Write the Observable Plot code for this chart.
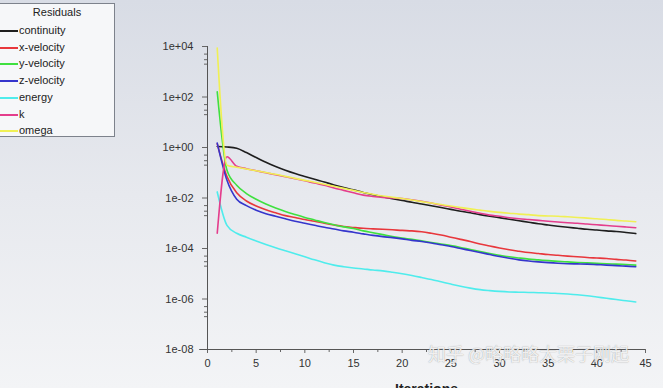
<!DOCTYPE html>
<html>
<head>
<meta charset="utf-8">
<script src="https://cdn.jsdelivr.net/npm/d3@7"></script>
<script src="https://cdn.jsdelivr.net/npm/@observablehq/plot@0.6"></script>
<style>
  html, body { margin: 0; padding: 0; }
  #wrap {
    position: relative; width: 663px; height: 388px; overflow: hidden;
    background: linear-gradient(to bottom, #d8dce5 0%, #e7e9ee 50%, #f3f4f6 100%);
    font-family: "Liberation Sans", Arial, sans-serif;
  }
  #legend {
    position: absolute; left: -1px; top: 3px; width: 116px; height: 134px;
    background: #f6f7f9; border: 1px solid #7d828c; box-sizing: border-box;
    font-size: 11px; color: #222;
  }
  #legend .title { position: absolute; top: 2px; left: 0; width: 100%; text-align: center; }
  #legend .row { position: absolute; left: 0; height: 14px; line-height: 14px; }
  #legend .sw { position: absolute; left: 0; top: 7px; width: 18px; height: 0; border-top: 2px solid; }
  #legend .lb { position: absolute; left: 19px; top: 0; white-space: nowrap; }
  #wm {
    position: absolute; left: 428px; top: 340px; font-family: "Noto Sans CJK SC", sans-serif;
    font-size: 18px; color: rgba(255,255,255,0.85); white-space: nowrap;
    text-shadow: 0 0 1px rgba(110,110,110,0.7);
  }
  #chart { position: absolute; left: 0; top: 0; }
</style>
</head>
<body>
<div id="wrap">
  <div id="chart"></div>
  <div id="legend"></div>
  <div id="wm">知乎 @略略略大栗子刚起</div>
</div>
<script>
const iterations = [1,2,3,4,5,6,7,8,9,10,11,12,13,14,15,16,17,18,19,20,21,22,23,24,25,26,27,28,29,30,31,32,33,34,35,36,37,38,39,40,41,42,43,44];

const seriesNames = ["continuity","x-velocity","y-velocity","z-velocity","energy","k","omega"];
const seriesColors = ["#1e1e1e","#e8373c","#3fe03f","#3535cc","#4fecec","#e43d8c","#f0f055"];

const continuity = [1.1,1.05,0.93,6.3e-1,4.0e-1,2.6e-1,1.78e-1,1.26e-1,9.3e-2,7.1e-2,5.5e-2,4.3e-2,3.3e-2,2.6e-2,2.1e-2,1.66e-2,1.35e-2,1.12e-2,9.3e-3,7.9e-3,6.8e-3,5.75e-3,4.9e-3,4.2e-3,3.55e-3,3.0e-3,2.6e-3,2.2e-3,1.9e-3,1.66e-3,1.45e-3,1.26e-3,1.1e-3,9.5e-4,8.5e-4,7.6e-4,6.9e-4,6.3e-4,5.75e-4,5.4e-4,5.0e-4,4.7e-4,4.3e-4,3.9e-4];
const xVelocity = [1.4,7.1e-2,1.6e-2,7.6e-3,4.8e-3,3.4e-3,2.6e-3,2.0e-3,1.7e-3,1.4e-3,1.2e-3,1.0e-3,8.5e-4,7.4e-4,6.8e-4,6.3e-4,6.0e-4,5.75e-4,5.5e-4,5.2e-4,5.0e-4,4.6e-4,4.0e-4,3.4e-4,2.8e-4,2.3e-4,1.9e-4,1.5e-4,1.26e-4,1.05e-4,8.9e-5,7.8e-5,6.9e-5,6.3e-5,5.75e-5,5.4e-5,5.0e-5,4.7e-5,4.4e-5,4.2e-5,4.0e-5,3.7e-5,3.5e-5,3.2e-5];
const yVelocity = [1.6e2,1.26e-1,3.2e-2,1.5e-2,8.9e-3,5.75e-3,4.0e-3,2.9e-3,2.2e-3,1.7e-3,1.35e-3,1.07e-3,8.7e-4,7.2e-4,6.2e-4,5.0e-4,4.2e-4,3.55e-4,3.0e-4,2.6e-4,2.3e-4,2.0e-4,1.74e-4,1.5e-4,1.3e-4,1.1e-4,9.1e-5,7.6e-5,6.3e-5,5.4e-5,4.7e-5,4.2e-5,3.8e-5,3.55e-5,3.3e-5,3.1e-5,2.95e-5,2.8e-5,2.7e-5,2.6e-5,2.5e-5,2.4e-5,2.3e-5,2.2e-5];
const zVelocity = [1.5,5.0e-2,8.9e-3,5.0e-3,3.3e-3,2.4e-3,1.9e-3,1.5e-3,1.2e-3,1.0e-3,8.3e-4,6.9e-4,5.9e-4,5.0e-4,4.4e-4,3.8e-4,3.3e-4,2.95e-4,2.7e-4,2.4e-4,2.1e-4,1.9e-4,1.66e-4,1.4e-4,1.2e-4,1.0e-4,8.3e-5,6.9e-5,5.75e-5,4.8e-5,4.1e-5,3.55e-5,3.2e-5,2.95e-5,2.75e-5,2.6e-5,2.5e-5,2.45e-5,2.4e-5,2.3e-5,2.2e-5,2.1e-5,2.0e-5,1.9e-5];
const energy = [1.74e-2,8.3e-4,4.0e-4,2.8e-4,2.0e-4,1.45e-4,1.07e-4,8.1e-5,6.2e-5,4.7e-5,3.55e-5,2.75e-5,2.2e-5,1.9e-5,1.7e-5,1.55e-5,1.4e-5,1.3e-5,1.15e-5,1.0e-5,8.5e-6,7.1e-6,5.9e-6,4.8e-6,3.9e-6,3.2e-6,2.7e-6,2.35e-6,2.15e-6,2.0e-6,1.9e-6,1.86e-6,1.82e-6,1.78e-6,1.74e-6,1.66e-6,1.58e-6,1.48e-6,1.35e-6,1.2e-6,1.07e-6,9.5e-7,8.5e-7,7.6e-7];
const kResidual = [4.0e-4,4.3e-1,1.8e-1,1.45e-1,1.2e-1,1.0e-1,8.3e-2,6.9e-2,5.75e-2,4.8e-2,3.9e-2,3.2e-2,2.5e-2,2.0e-2,1.6e-2,1.3e-2,1.15e-2,1.05e-2,1.0e-2,9.5e-3,8.5e-3,7.4e-3,6.3e-3,5.2e-3,4.4e-3,3.6e-3,3.0e-3,2.5e-3,2.1e-3,1.9e-3,1.66e-3,1.5e-3,1.4e-3,1.3e-3,1.2e-3,1.12e-3,1.05e-3,1.0e-3,9.3e-4,8.7e-4,8.1e-4,7.6e-4,7.1e-4,6.6e-4];
const omega = [8.7e3,2.0e-1,1.66e-1,1.4e-1,1.2e-1,1.02e-1,8.7e-2,7.2e-2,6.0e-2,5.0e-2,4.2e-2,3.5e-2,2.9e-2,2.4e-2,2.0e-2,1.66e-2,1.4e-2,1.2e-2,1.07e-2,9.5e-3,8.3e-3,7.2e-3,6.3e-3,5.5e-3,4.8e-3,4.2e-3,3.7e-3,3.3e-3,2.95e-3,2.7e-3,2.5e-3,2.3e-3,2.2e-3,2.0e-3,1.95e-3,1.9e-3,1.8e-3,1.7e-3,1.6e-3,1.5e-3,1.4e-3,1.3e-3,1.23e-3,1.15e-3];

const yTickValues = [1e4,1e2,1,1e-2,1e-4,1e-6,1e-8];
const xTickValues = [0,5,10,15,20,25,30,35,40,45];
const xMinorTicks = [2.5,7.5,12.5,17.5,22.5,27.5,32.5,37.5,42.5];
const yMinorTicks = [5e3,3e3,2e3,5e1,3e1,2e1,5e-1,3e-1,2e-1,5e-3,3e-3,2e-3,5e-5,3e-5,2e-5,5e-7,3e-7,2e-7];
const xLabel = "Iterations";
const legendTitle = "Residuals";

const allSeries = [continuity, xVelocity, yVelocity, zVelocity, energy, kResidual, omega];
const rows = [];
allSeries.forEach((arr, si) => {
  arr.forEach((v, i) => rows.push({series: seriesNames[si], iter: iterations[i], value: v}));
});

const fmt = d => {
  const e = Math.round(Math.log10(d));
  return "1e" + (e < 0 ? "-" : "+") + String(Math.abs(e)).padStart(2, "0");
};

const chart = Plot.plot({
  width: 663,
  height: 388,
  marginLeft: 207,
  marginRight: 18,
  marginTop: 46,
  marginBottom: 39,
  style: {background: "transparent", fontFamily: "Liberation Sans, Arial, sans-serif", fontSize: "11px", color: "#333", overflow: "visible"},
  x: {domain: [0, 45], axis: null},
  y: {type: "log", domain: [1e-8, 1e4], axis: null},
  color: {domain: seriesNames, range: seriesColors},
  marks: [
    Plot.axisY({ticks: yMinorTicks, tickSize: 3, tickFormat: () => "", stroke: "#666"}),
    Plot.axisY({ticks: yTickValues, tickSize: 5, tickPadding: 9, tickFormat: fmt, label: null, stroke: "#666", fill: "#333"}),
    Plot.axisX({ticks: xMinorTicks, tickSize: 3, tickFormat: () => "", label: null, stroke: "#666"}),
    Plot.axisX({ticks: xTickValues, tickSize: 4, tickPadding: 6, tickFormat: d => String(d), label: null, stroke: "#666", fill: "#333"}),
    Plot.ruleX([0], {stroke: "#555", strokeWidth: 1}),
    Plot.ruleY([1e-8], {x1: -0.8, x2: 45, stroke: "#555", strokeWidth: 1}),
    Plot.line(rows, {x: "iter", y: "value", z: "series", stroke: "series", strokeWidth: 1.6, curve: "monotone-x"}),
    Plot.text([xLabel], {frameAnchor: "bottom", dy: 44, fontSize: 14, fontWeight: "bold", fill: "#222", text: d => d})
  ]
});
document.getElementById("chart").appendChild(chart);

// legend (HTML)
const legend = document.getElementById("legend");
const t = document.createElement("div");
t.className = "title";
t.textContent = legendTitle;
legend.appendChild(t);
seriesNames.forEach((name, i) => {
  const r = document.createElement("div");
  r.className = "row";
  r.style.top = (19 + i * 16.7) + "px";
  const sw = document.createElement("div");
  sw.className = "sw";
  sw.style.borderTopColor = seriesColors[i];
  const lb = document.createElement("div");
  lb.className = "lb";
  lb.textContent = name;
  r.appendChild(sw);
  r.appendChild(lb);
  legend.appendChild(r);
});
</script>
</body>
</html>
